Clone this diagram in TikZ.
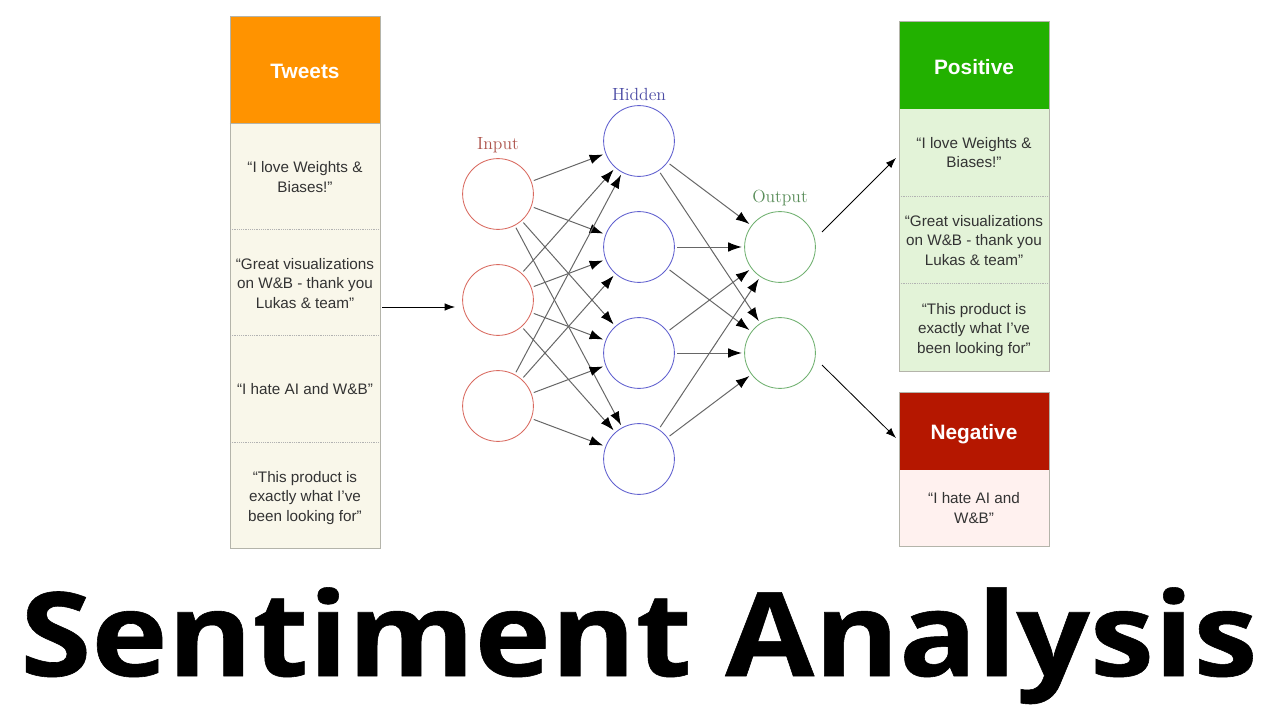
\documentclass[tikz,border=0pt]{standalone}
\usepackage{fontspec}
\setsansfont{Liberation Sans}
\newfontfamily\titlefont[FakeStretch=1.106,FakeBold=0.5]{Open Sans}
\usetikzlibrary{arrows.meta,positioning}

\definecolor{tweetorange}{HTML}{FF9300}
\definecolor{tweetcell}{HTML}{F9F7EA}
\definecolor{posgreen}{HTML}{22B100}
\definecolor{poscell}{HTML}{E3F3D8}
\definecolor{negred}{HTML}{B51700}
\definecolor{negcell}{HTML}{FFF1EF}
\definecolor{panelline}{HTML}{B4B4AA}
\definecolor{inred}{HTML}{D9695F}
\definecolor{hidblue}{HTML}{5F5FCF}
\definecolor{outgreen}{HTML}{6FB06F}

\tikzset{
  header/.style={draw=none, text=white, minimum width=3.75cm, outer sep=0pt, inner sep=0pt,
    font=\sffamily\bfseries\fontsize{14.8}{18}\selectfont},
  body/.style={draw=none, minimum width=3.75cm, outer sep=0pt},
  quote/.style={text=black!80, align=center, inner sep=0pt,
    font=\sffamily\fontsize{10.85}{13.8}\selectfont},
  divider/.style={black!30, densely dotted, line width=0.3pt},
  frame/.style={draw=panelline, line width=0.5pt},
  neuron/.style={circle, minimum size=1.77cm, fill=white, line width=0.6pt, outer sep=2pt},
  layername/.style={font=\fontsize{12.5}{15}\selectfont, inner sep=0pt},
  netarrow/.style={draw=black!60, line width=0.7pt, -{Latex[length=3.4mm,width=2.4mm,black]}},
  bigarrow/.style={black, line width=0.6pt, -{Latex[length=2.6mm,width=1.9mm]}}
}

\begin{document}
\begin{tikzpicture}[x=0.025cm,y=-0.025cm]
  \useasboundingbox[fill=white] (0,0) rectangle (1280,720);

  % left panel
  \node[header, fill=tweetorange, minimum height=2.675cm] (tweets) at (305,69.5) {};
  \node[body, fill=tweetcell, minimum height=10.625cm] (tweetbody) at (305,335.5) {};
  \draw[frame] (tweets.north west) rectangle (tweetbody.south east);
  \draw[panelline, line width=0.5pt] (tweets.south west) -- (tweets.south east);
  \draw[divider] (230,229) -- (380,229);
  \draw[divider] (230,335) -- (380,335);
  \draw[divider] (230,442) -- (380,442);
  \node[header] (tweetname) at (305,71.5) {Tweets};
  \node[quote] (tw1) at (305,177) {``I love Weights \&\\Biases!''};
  \node[quote] (tw2) at (305,283.5) {``Great visualizations\\on W\&B - thank you\\Lukas \& team''};
  \node[quote] (tw3) at (305,389) {``I hate AI and W\&B''};
  \node[quote] (tw4) at (305,498) {``This product is\\exactly what I've\\been looking for''};

  % right panels
  \node[header, fill=posgreen, minimum height=2.2cm] (positive) at (974,65) {};
  \node[body, fill=poscell, minimum height=6.55cm] (posbody) at (974,240) {};
  \draw[frame] (positive.north west) rectangle (posbody.south east);
  \draw[divider] (899,196) -- (1049,196);
  \draw[divider] (899,283) -- (1049,283);
  \node[header] (posname) at (974,67) {Positive};
  \node[quote] (po1) at (974,152.5) {``I love Weights \&\\Biases!''};
  \node[quote] (po2) at (974,240.5) {``Great visualizations\\on W\&B - thank you\\Lukas \& team''};
  \node[quote] (po3) at (974,330) {``This product is\\exactly what I've\\been looking for''};

  \node[header, fill=negred, minimum height=1.95cm] (negative) at (974,431) {};
  \node[body, fill=negcell, minimum height=1.9cm] (negbody) at (974,508) {};
  \draw[frame] (negative.north west) rectangle (negbody.south east);
  \node[header] (negname) at (974,434) {Negative};
  \node[quote] (ne1) at (974,508) {``I hate AI and\\W\&B''};

  % network
  \foreach \i/\y in {1/194,2/300,3/406}
    \node[neuron, draw=inred] (in\i) at (498,\y) {};
  \foreach \i/\y in {1/141,2/247,3/353,4/459}
    \node[neuron, draw=hidblue] (hid\i) at (639,\y) {};
  \foreach \i/\y in {1/247,2/353}
    \node[neuron, draw=outgreen] (out\i) at (780,\y) {};

  \node[layername, text=inred!80!black] (inlabel) at (498,145) {Input};
  \node[layername, text=hidblue!80!black] (hidlabel) at (639,94.5) {Hidden};
  \node[layername, text=outgreen!80!black] (outlabel) at (780,198) {Output};

  \foreach \i in {1,2,3}
    \foreach \j in {1,2,3,4}
      \draw[netarrow] (in\i) -- (hid\j);
  \foreach \j in {1,2,3,4}
    \foreach \k in {1,2}
      \draw[netarrow] (hid\j) -- (out\k);

  % arrows between panels and network
  \coordinate (tweetsout) at (382,307);
  \coordinate (netin) at (455,307);
  \coordinate (posfrom) at (822,232);
  \coordinate (posto) at (896,158);
  \coordinate (negfrom) at (822,365);
  \coordinate (negto) at (896,438);
  \draw[bigarrow] (tweetsout) -- (netin);
  \draw[bigarrow] (posfrom) -- (posto);
  \draw[bigarrow] (negfrom) -- (negto);

  \node[font=\titlefont\bfseries\fontsize{83}{100}\selectfont, text=black, inner sep=0pt, anchor=base] (title) at (639,676) {Sentiment Analysis};
\end{tikzpicture}
\end{document}
